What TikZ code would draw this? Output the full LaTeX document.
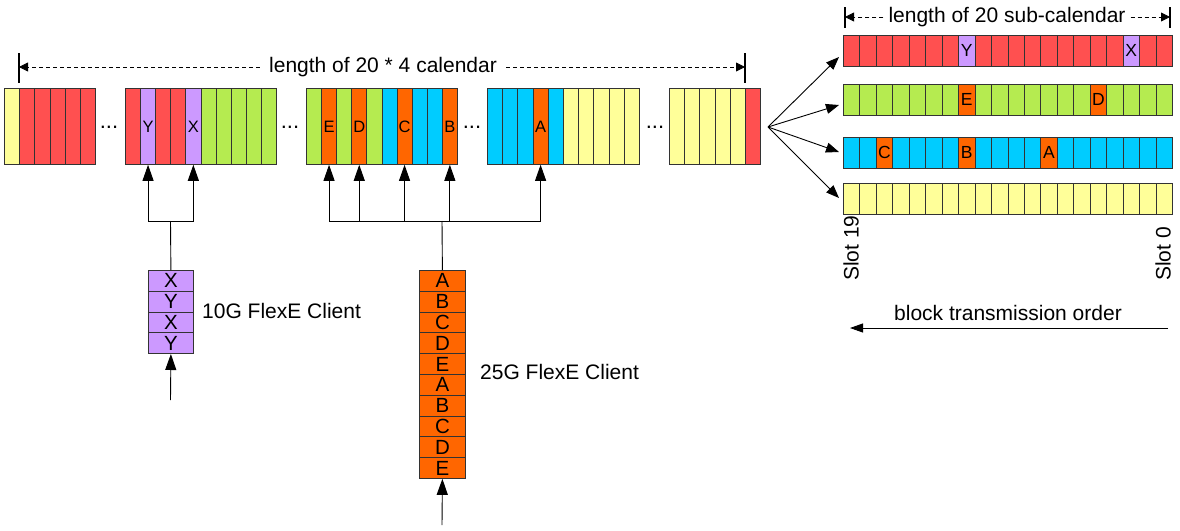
\documentclass[tikz,border=0pt]{standalone}
\usepackage{fontspec}
\setmainfont{Liberation Sans}
\usetikzlibrary{arrows.meta}
\definecolor{cR}{HTML}{FF5050}
\definecolor{cY}{HTML}{FFFF99}
\definecolor{cG}{HTML}{B5EB50}
\definecolor{cC}{HTML}{00CCFF}
\definecolor{cO}{HTML}{FF6600}
\definecolor{cP}{HTML}{CC99FF}
\definecolor{bd}{HTML}{333333}
\begin{document}
\begin{tikzpicture}[x=1pt,y=-1pt,
  cal/.style={draw=bd, line width=0.8pt, minimum height=76pt, inner sep=0pt, anchor=north west, font=\fontsize{16.5}{16}\selectfont},
  sub/.style={draw=bd, line width=0.8pt, minimum width=16.45pt, minimum height=31pt, inner sep=0pt, anchor=north west, font=\fontsize{17.5}{17}\selectfont},
  cli/.style={draw=bd, line width=0.8pt, minimum height=20.8pt, inner sep=0pt, anchor=north west, font=\fontsize{20.5}{20}\selectfont},
  arr/.style={-{Triangle[length=16pt,width=11pt]}, line width=0.9pt},
  farr/.style={-{Triangle[length=13pt,width=10pt]}, line width=0.9pt},
  dim/.style={-{Triangle[length=9pt,width=9pt]}, line width=0.8pt, dash pattern=on 4pt off 3pt},
  tick/.style={line width=1.3pt},
  lbl/.style={font=\fontsize{21}{22}\selectfont, inner sep=5pt},
  dots/.style={font=\fontsize{22}{22}\selectfont, inner sep=0pt}
]
\useasboundingbox (0,0) rectangle (1180,530);

% ---------- main calendar ----------
\foreach \c/\t [count=\i from 0] in {cY/{},cR/{},cR/{},cR/{},cR/{},cR/{}}
  \node[cal, minimum width=15.2pt, fill=\c] (b1-\i) at ({4+15.2*\i},88) {\t};
\foreach \c/\t [count=\i from 0] in {cR/{},cP/Y,cR/{},cR/{},cP/X,cG/{},cG/{},cG/{},cG/{},cG/{}}
  \node[cal, minimum width=15.1pt, fill=\c] (b2-\i) at ({125+15.1*\i},88) {\t};
\foreach \c/\t [count=\i from 0] in {cG/{},cO/E,cG/{},cO/D,cG/{},cC/{},cO/C,cC/{},cC/{},cO/B}
  \node[cal, minimum width=15.1pt, fill=\c] (b3-\i) at ({306+15.1*\i},88) {\t};
\foreach \c/\t [count=\i from 0] in {cC/{},cC/{},cC/{},cO/A,cC/{},cY/{},cY/{},cY/{},cY/{},cY/{}}
  \node[cal, minimum width=15.2pt, fill=\c] (b4-\i) at ({487+15.2*\i},88) {\t};
\foreach \c/\t [count=\i from 0] in {cY/{},cY/{},cY/{},cY/{},cY/{},cR/{}}
  \node[cal, minimum width=15.2pt, fill=\c] (b5-\i) at ({669+15.2*\i},88) {\t};

\node[dots] (d1) at (109,127) {...};
\node[dots] (d2) at (290,127) {...};
\node[dots] (d3) at (472,127) {...};
\node[dots] (d4) at (655,127) {...};

% top dimension
\coordinate (tl) at (19,67);
\coordinate (tr) at (745,67);
\draw[tick] ([yshift=14pt]tl) -- ([yshift=-16pt]tl);
\draw[tick] ([yshift=14pt]tr) -- ([yshift=-16pt]tr);
\node[lbl, inner xsep=9pt] (tlab) at (383,67) {length of 20 * 4 calendar};
\draw[dim] (tlab.west) -- (tl);
\draw[dim] (tlab.east) -- (tr);

% ---------- clients ----------
\foreach \t [count=\i from 0] in {X,Y,X,Y}
  \node[cli, fill=cP, minimum width=45pt] (c10-\i) at (148,{270+20.8*\i}) {\t};
\foreach \t [count=\i from 0] in {A,B,C,D,E,A,B,C,D,E}
  \node[cli, fill=cO, minimum width=46pt] (c25-\i) at (419,{270+20.8*\i}) {\t};

\node[lbl, anchor=west, inner sep=0pt] (l10) at (202,311) {10G FlexE Client};
\node[lbl, anchor=west, inner sep=0pt] (l25) at (480,372) {25G FlexE Client};

\coordinate (j1) at (170.5,221);
\draw[line width=0.9pt] (c10-0.north) -- (j1);
\draw[arr] (j1) -| (b2-1.south);
\draw[arr] (j1) -| (b2-4.south);

\coordinate (j2) at (442,221);
\draw[line width=0.9pt] (c25-0.north) -- (j2);
\draw[arr] (j2) -| (b3-1.south);
\draw[arr] (j2) -| (b3-3.south);
\draw[arr] (j2) -| (b3-6.south);
\draw[arr] (j2) -| (b3-9.south);
\draw[arr] (j2) -| (b4-3.south);

\coordinate (i10) at (170.5,400);
\coordinate (i25) at (442,525);
\draw[arr] (i10) -- (c10-3.south);
\draw[arr] (i25) -- (c25-9.south);

% ---------- sub-calendars ----------
\foreach \c/\t [count=\i from 0] in {cR/{},cR/{},cR/{},cR/{},cR/{},cR/{},cR/{},cP/Y,cR/{},cR/{},cR/{},cR/{},cR/{},cR/{},cR/{},cR/{},cR/{},cP/X,cR/{},cR/{}}
  \node[sub, fill=\c] (s1-\i) at ({843+16.45*\i},35) {\t};
\foreach \c/\t [count=\i from 0] in {cG/{},cG/{},cG/{},cG/{},cG/{},cG/{},cG/{},cO/E,cG/{},cG/{},cG/{},cG/{},cG/{},cG/{},cG/{},cO/D,cG/{},cG/{},cG/{},cG/{}}
  \node[sub, fill=\c] (s2-\i) at ({843+16.45*\i},84) {\t};
\foreach \c/\t [count=\i from 0] in {cC/{},cC/{},cO/C,cC/{},cC/{},cC/{},cC/{},cO/B,cC/{},cC/{},cC/{},cC/{},cO/A,cC/{},cC/{},cC/{},cC/{},cC/{},cC/{},cC/{}}
  \node[sub, fill=\c] (s3-\i) at ({843+16.45*\i},137) {\t};
\foreach \i in {0,...,19}
  \node[sub, fill=cY] (s4-\i) at ({843+16.45*\i},183) {};

% fan arrows
\coordinate (fan) at (768,127);
\coordinate (f1) at (839,57);
\coordinate (f2) at (839,105);
\coordinate (f3) at (839,152);
\coordinate (f4) at (839,198);
\draw[farr] (fan) -- (f1);
\draw[farr] (fan) -- (f2);
\draw[farr] (fan) -- (f3);
\draw[farr] (fan) -- (f4);

% sub dimension
\coordinate (sl) at (845,17);
\coordinate (sr) at (1170,17);
\draw[tick] ([yshift=10pt]sl) -- ([yshift=-11pt]sl);
\draw[tick] ([yshift=10pt]sr) -- ([yshift=-11pt]sr);
\node[lbl] (slab) at (1007,17) {length of 20 sub-calendar};
\draw[dim] (slab.west) -- (sl);
\draw[dim] (slab.east) -- (sr);

% slot labels
\node[lbl, rotate=90, anchor=west, inner sep=0pt] (slot19) at (851,281) {Slot 19};
\node[lbl, rotate=90, anchor=west, inner sep=0pt] (slot0) at (1163,281) {Slot 0};

% transmission order
\node[lbl] (ord) at (1008,313) {block transmission order};
\coordinate (oR) at (1168,328);
\coordinate (oL) at (850,328);
\draw[-{Triangle[length=13pt,width=9pt]}, line width=0.9pt] (oR) -- (oL);
\end{tikzpicture}
\end{document}
